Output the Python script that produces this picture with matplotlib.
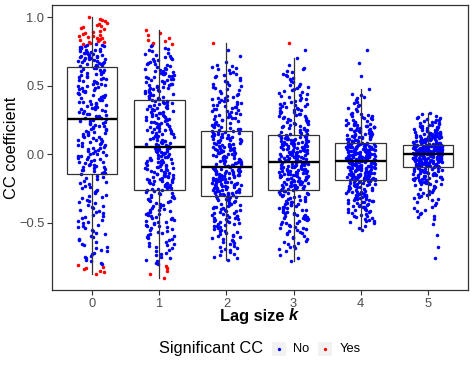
import numpy as np
import matplotlib
matplotlib.use("Agg")
import matplotlib.pyplot as plt
from matplotlib.patches import Rectangle
from matplotlib.lines import Line2D

plt.rcParams['font.family'] = ['Liberation Sans', 'DejaVu Sans']

# ---- data ----
lags = [0, 1, 2, 3, 4, 5]
n_points = [300, 330, 330, 330, 330, 330]
q_probs = [0, 0.01, 0.05, 0.1, 0.25, 0.5, 0.75, 0.9, 0.95, 0.99, 1]
q_lag0 = [-0.87, -0.84, -0.72, -0.55, -0.14, 0.26, 0.64, 0.80, 0.87, 0.97, 1.00]
q_lag1 = [-0.90, -0.82, -0.68, -0.55, -0.26, 0.05, 0.40, 0.62, 0.72, 0.84, 0.91]
q_lag2 = [-0.77, -0.73, -0.62, -0.52, -0.30, -0.09, 0.17, 0.42, 0.55, 0.66, 0.81]
q_lag3 = [-0.78, -0.70, -0.58, -0.48, -0.26, -0.056, 0.14, 0.38, 0.50, 0.64, 0.81]
q_lag4 = [-0.55, -0.50, -0.42, -0.35, -0.19, -0.05, 0.08, 0.22, 0.30, 0.45, 0.76]
q_lag5 = [-0.76, -0.48, -0.33, -0.22, -0.09, 0.00, 0.07, 0.16, 0.21, 0.27, 0.30]
sig_threshold = 0.805
y_ticks = [-0.5, 0.0, 0.5, 1.0]
y_ticklabels = ["\u22120.5", "0.0", "0.5", "1.0"]

quantiles = [q_lag0, q_lag1, q_lag2, q_lag3, q_lag4, q_lag5]
values = [np.interp(np.linspace(0, 1, n), q_probs, q) for n, q in zip(n_points, quantiles)]

# ---- figure ----
W, H = 474, 366
fig = plt.figure(figsize=(W / 100, H / 100), dpi=100)
ax = fig.add_axes([52 / W, 1 - 290 / H, (468 - 52) / W, (290 - 5) / H])

rng = np.random.default_rng(7)
for lag, v in zip(lags, values):
    xj = lag + rng.uniform(-0.22, 0.22, size=len(v))
    sig = np.abs(v) >= sig_threshold
    ax.scatter(xj[~sig], v[~sig], s=6.5, color='#0000FF', linewidths=0, zorder=2)
    ax.scatter(xj[sig], v[sig], s=6.5, color='#FF0000', linewidths=0, zorder=2)

bc = '#333333'
ax.boxplot(values, positions=lags, widths=0.75, whis=1.5, showfliers=False,
           showcaps=False, patch_artist=True, manage_ticks=False,
           boxprops=dict(facecolor='none', edgecolor=bc, linewidth=0.9),
           whiskerprops=dict(color=bc, linewidth=0.9),
           medianprops=dict(color='black', linewidth=1.7),
           zorder=3)

ax.set_xlim(-0.6, 5.6)
ax.set_ylim(-0.99, 1.09)
ax.set_xticks(lags)
ax.set_xticklabels([str(l) for l in lags])
ax.set_yticks(y_ticks)
ax.set_yticklabels(y_ticklabels)
ax.tick_params(axis='both', colors='#333333', labelcolor='#4D4D4D', labelsize=9.3,
               length=3.5, width=0.8, pad=2)
for s in ax.spines.values():
    s.set_color('#333333')
    s.set_linewidth(0.9)

fig.text(12 / W, 1 - 148 / H, "CC coefficient", fontsize=11.8, rotation=90,
         ha='center', va='center')
fig.text(289 / W, 1 - 316 / H, "Lag size ", fontsize=11.8,
         fontweight='bold', ha='right', va='center')
fig.text(289 / W, 1 - 316 / H, "k", fontsize=11.8, fontweight='bold', style='italic',
         ha='left', va='center')

# ---- legend ----
ly = 1 - 349 / H
fig.text(211 / W, ly, "Significant CC", fontsize=11.8, ha='center', va='center')
for x0, col, lab, lx in [(271.5, '#0000FF', 'No', 293), (318, '#FF0000', 'Yes', 340)]:
    fig.patches.append(Rectangle((x0 / W, ly - 7 / H), 14 / W, 14 / H, transform=fig.transFigure,
                                 facecolor='#F2F2F2', edgecolor='none'))
    fig.lines.append(Line2D([(x0 + 7) / W], [ly], transform=fig.transFigure, marker='o',
                            markersize=2.4, color=col, markeredgewidth=0))
    fig.text(lx / W, ly, lab, fontsize=9.3, ha='left', va='center')

fig.savefig("out.png", dpi=100)
